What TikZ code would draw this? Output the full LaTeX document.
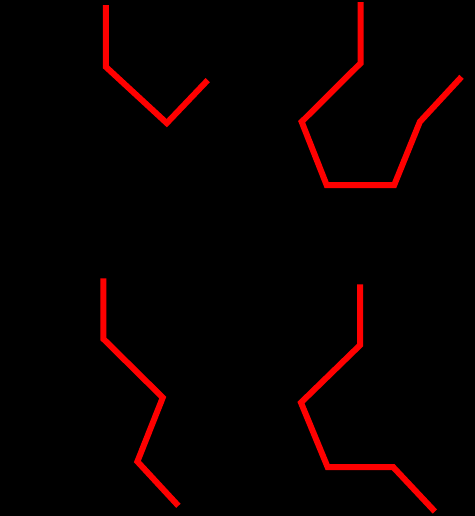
\documentclass[tikz,border=0pt]{standalone}
\usepackage{tikz}

\begin{document}
\begin{tikzpicture}[x=1pt,y=-1pt,chain/.style={draw=red,line width=6pt}]
\draw[fill=black] (0,0) rectangle (474,516);
\useasboundingbox (0,0) rectangle (474,516);
% top left
\draw[chain] (105.7,5) -- (105.7,66.7) -- (166.7,123) -- (207.7,80);
% top right
\draw[chain] (360.7,2) -- (360.7,63) -- (301.7,121.7) -- (326.7,185) -- (394.3,185) -- (420,121.7) -- (461.7,76.7);
% bottom left
\draw[chain] (103.3,278.3) -- (103.3,339) -- (162.7,397.7) -- (137.3,461.7) -- (178.3,506);
% bottom right
\draw[chain] (360.3,284.3) -- (360.3,345) -- (301,402.7) -- (327.7,467.3) -- (393.3,467.3) -- (435,511.7);
\end{tikzpicture}
\end{document}
